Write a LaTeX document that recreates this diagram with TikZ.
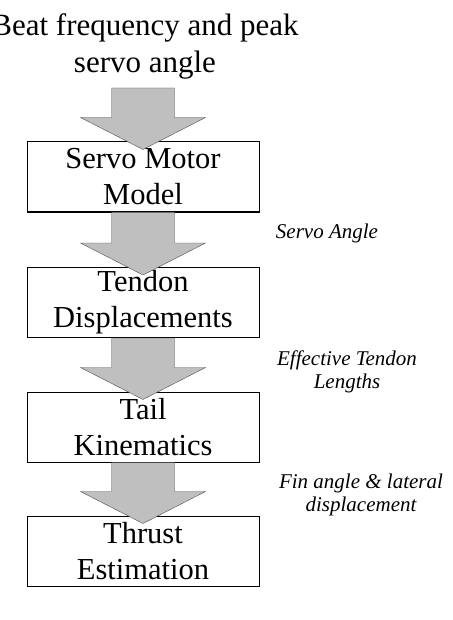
\documentclass[tikz,border=0pt]{standalone}
\usepackage{fontspec}
\setmainfont{Liberation Serif}
\usepackage{tikz}
\usetikzlibrary{calc}

\begin{document}
\begin{tikzpicture}[x=1pt, y=-1pt,
		block/.style={draw, line width=1pt, minimum width=232pt, minimum height=70pt, inner sep=0pt, align=center, font=\fontsize{30.5}{36}\selectfont},
		note/.style={align=center, font=\fontsize{21}{23.5}\selectfont\itshape},
		flow/.style={fill=black!25, draw=black!70, line width=0.4pt}]
			\useasboundingbox (0,0) rectangle (452,620);
			\node[align=center, font=\fontsize{31}{37}\selectfont](title) at (145,46){Beat frequency and peak\\servo angle};
			\coordinate(input) at (143,88);
			\foreach \name/\y/\label in {servo/177/{Servo Motor\\Model}, tendon/302.5/{Tendon\\Displacements}, tail/427/{Tail\\Kinematics}, thrust/551/{Thrust\\Estimation}}
			{
				\node[block](\name) at (143,\y){\label};
			}
			\foreach \src/\dst in {input/servo, servo.south/tendon, tendon.south/tail, tail.south/thrust}
			{
				\path[flow] ($(\src)+(-31.5,0)$) -- ($(\dst.north)+(-31.5,-24)$) -- ($(\dst.north)+(-62.5,-24)$) -- ($(\dst.north)+(0,8)$) -- ($(\dst.north)+(62.5,-24)$) -- ($(\dst.north)+(31.5,-24)$) -- ($(\src)+(31.5,0)$) -- cycle;
			}
			\node[note](angleNote) at (327,233){Servo Angle};
			\node[note](lengthNote) at (347,372){Effective Tendon\\Lengths};
			\node[note](finNote) at (361,495){Fin angle \& lateral\\displacement};
		\end{tikzpicture}
\end{document}
